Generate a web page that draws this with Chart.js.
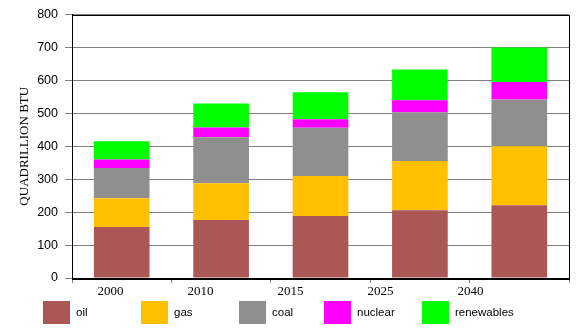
<!DOCTYPE html>
<html>
<head>
<meta charset="utf-8">
<script src="https://cdn.jsdelivr.net/npm/chart.js@4"></script>
<style>
  body { margin: 0; background: #fff; }
  #wrap { width: 580px; height: 332px; }
</style>
</head>
<body>
<div id="wrap"><canvas id="chart" width="580" height="332"></canvas></div>
<script>
// energy consumption by source, quadrillion Btu
const years = ['2000', '2010', '2015', '2025', '2040'];
const oil = [155, 176, 188, 206, 221];
const gas = [87, 112, 122, 149, 179];
const coal = [92, 139, 146, 148, 142];
const nuclear = [26, 30, 26, 37, 53];
const renewables = [55, 73, 82, 93, 105];

const serif = '"Liberation Serif", "Times New Roman", serif';
const sans = '"Liberation Sans", Arial, sans-serif';

// legend items sit at fixed spots under the plot
const legendX = [43, 141, 239, 324, 422];
const fixedLegend = {
  id: 'fixedLegend',
  afterDraw(chart) {
    const ctx = chart.ctx;
    ctx.save();
    ctx.font = '11.5px ' + sans;
    ctx.textBaseline = 'middle';
    chart.data.datasets.forEach((ds, i) => {
      const x = legendX[i];
      ctx.fillStyle = ds.backgroundColor;
      ctx.fillRect(x, 301, 27, 23);
      ctx.fillStyle = '#000';
      ctx.fillText(ds.label, x + 33, 313);
    });
    ctx.restore();
  }
};

// black frame round the plot area
const frame = {
  id: 'frame',
  afterDraw(chart) {
    const a = chart.chartArea;
    const ctx = chart.ctx;
    ctx.save();
    ctx.strokeStyle = '#000';
    ctx.lineWidth = 1;
    ctx.strokeRect(Math.round(a.left) + 0.5, Math.round(a.top) + 0.5,
      Math.round(a.right - a.left), Math.round(a.bottom - a.top));
    ctx.restore();
  }
};

function series(label, data, color) {
  return { label, data, backgroundColor: color, borderWidth: 0,
           barPercentage: 0.56, categoryPercentage: 1 };
}

new Chart(document.getElementById('chart'), {
  type: 'bar',
  data: {
    labels: years,
    datasets: [
      series('oil', oil, '#AB5755'),
      series('gas', gas, '#FFC000'),
      series('coal', coal, '#8F8F8F'),
      series('nuclear', nuclear, '#FF00FF'),
      series('renewables', renewables, '#00FF00')
    ]
  },
  options: {
    responsive: false,
    animation: false,
    layout: { padding: { left: 0, right: 11, top: 14, bottom: 28 } },
    plugins: { legend: { display: false }, tooltip: { enabled: false } },
    scales: {
      x: {
        stacked: true,
        position: 'bottom',
        grid: { offset: true, drawOnChartArea: false, color: '#808080', tickLength: 5 },
        border: { color: '#000' },
        ticks: { display: false },
        afterFit(s) { s.height = 6; }
      },
      // year labels run on their own linear track
      xLabels: {
        type: 'linear',
        position: 'bottom',
        offset: false,
        min: -0.428,
        max: 5.094,
        grid: { display: false, drawTicks: false },
        border: { display: false },
        ticks: {
          stepSize: 1,
          includeBounds: false,
          autoSkip: false,
          maxRotation: 0,
          padding: 0,
          color: '#000',
          font: { family: serif, size: 13 },
          callback: v => years[v] ?? ''
        },
        afterFit(s) { s.height = 20; }
      },
      y: {
        stacked: true,
        min: 0,
        max: 800,
        grid: { color: '#808080', tickLength: 7 },
        border: { color: '#000' },
        ticks: {
          stepSize: 100,
          padding: 7,
          color: '#000',
          font: { family: sans, size: 12.5 }
        },
        title: {
          display: true,
          text: 'QUADRILLION BTU',
          color: '#000',
          font: { family: serif, size: 13 },
          padding: { top: 17, bottom: 0 }
        },
        afterFit(s) { s.width = 72; }
      }
    }
  },
  plugins: [fixedLegend, frame]
});
</script>
</body>
</html>
